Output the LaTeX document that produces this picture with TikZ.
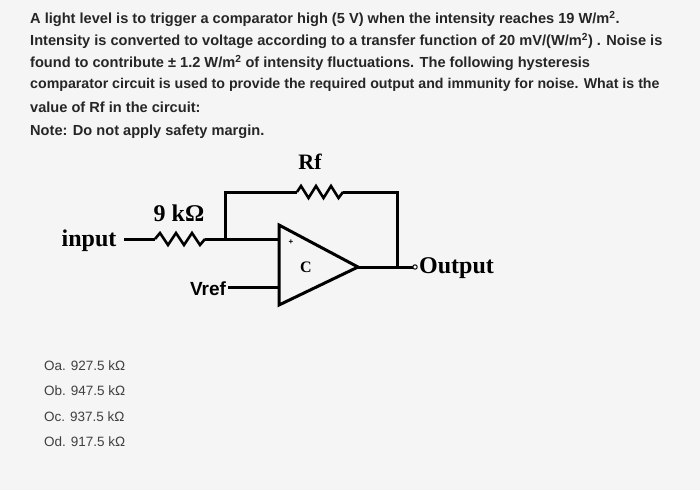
\documentclass[tikz,border=0pt]{standalone}
\usepackage{fontspec}
\setmainfont{Liberation Sans}
\newfontfamily\serf{Liberation Serif}
\begin{document}
\begin{tikzpicture}[x=1pt,y=-1pt,
  q/.style={anchor=west,inner sep=0,font=\fontsize{14.6}{17}\selectfont\bfseries,text=black!85},
  ans/.style={anchor=west,inner sep=0,font=\fontsize{13.5}{15}\selectfont,text=black!75},
  lab/.style={inner sep=0,font=\serf\fontsize{24}{26}\selectfont\bfseries},
  wire/.style={line width=3pt},
  res/.style={line width=2.6pt,line join=miter}]
\fill[black!4] (0,0) rectangle (700,490);
\useasboundingbox (0,0) rectangle (700,490);
\node[q] (l1) at (30,19) {A light level is to trigger a comparator high (5 V) when the intensity reaches 19 W/m\textsuperscript{2}.};
\node[q] (l2) at (30,41) {Intensity is converted to voltage according to a transfer function of 20 mV/(W/m\textsuperscript{2}) . Noise is};
\node[q] (l3) at (30,63) {found to contribute ± 1.2 W/m\textsuperscript{2} of intensity fluctuations. The following hysteresis};
\node[q,font=\fontsize{14.2}{17}\selectfont\bfseries] (l4) at (30,85) {comparator circuit is used to provide the required output and immunity for noise. What is the};
\node[q] (l5) at (30,107) {value of Rf in the circuit:};
\node[q] (l6) at (30,132) {Note: Do not apply safety margin.};
% circuit
\coordinate (ilft) at (124,239);
\coordinate (r1a) at (155,239);
\coordinate (r1b) at (205,239);
\coordinate (jn) at (225,239);
\coordinate (tl) at (225,192);
\coordinate (rfa) at (297,192);
\coordinate (rfb) at (343,192);
\coordinate (tr) at (397,192);
\coordinate (otip) at (358,267);
\coordinate (oj) at (397,267);
\coordinate (oc) at (413,267);
\coordinate (vl) at (228,287);
\coordinate (vr) at (279,287);
\coordinate (pin) at (279,239);
\draw[wire,line join=miter] (279,225) -- (358,267) -- (279,305) -- cycle;
\draw[wire] (ilft) -- (r1a);
\draw[res] (r1a) -- ++(5,-6) -- ++(8,12) -- ++(8,-12) -- ++(8,12) -- ++(8,-12) -- ++(8,12) -- (r1b);
\draw[wire] (r1b) -- (jn) -- (pin);
\draw[wire] (jn) -- (tl) -- (rfa);
\draw[res] (rfa) -- ++(4,-6) -- ++(7.5,12) -- ++(7.5,-12) -- ++(7.5,12) -- ++(7.5,-12) -- ++(7.5,12) -- (rfb);
\draw[wire] (rfb) -- (tr) -- (oj);
\draw[wire] (otip) -- (oc);
\draw[line width=1pt,fill=white] (415,267) circle (2.2);
\draw[wire] (vl) -- (vr);
\node[inner sep=0,font=\footnotesize\bfseries] (plus) at (291,242) {+};
\node[lab] (inp) at (89,241) {input};
\node[lab] (nk) at (179,213) {9 kΩ};
\node[lab,font=\serf\fontsize{22}{24}\selectfont\bfseries] (rf) at (310,162) {Rf};
\node[lab,anchor=west] (out) at (419,268) {Output};
\node[inner sep=0,font=\serf\fontsize{16}{18}\selectfont\bfseries] (c) at (306,267) {C};
\node[inner sep=0,font=\fontsize{19}{21}\selectfont\bfseries] (vref) at (208,289) {Vref};
\node[ans] (a) at (44,366) {Oa. 927.5 kΩ};
\node[ans] (b) at (44,391) {Ob. 947.5 kΩ};
\node[ans] (cc) at (44,417) {Oc. 937.5 kΩ};
\node[ans] (d) at (44,442) {Od. 917.5 kΩ};
\end{tikzpicture}
\end{document}
